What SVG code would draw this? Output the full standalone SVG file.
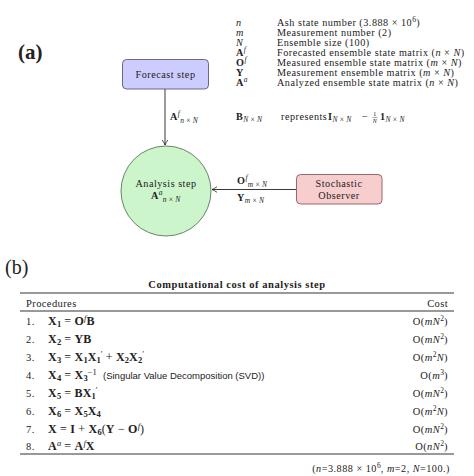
<svg xmlns="http://www.w3.org/2000/svg" width="474" height="476" viewBox="0 0 474 476">
<defs>
<marker id="arr" markerWidth="8" markerHeight="8" refX="6" refY="4" orient="auto" markerUnits="userSpaceOnUse">
<path d="M1,1.2 Q3.5,3 6,4 Q3.5,5 1,6.8" fill="none" stroke="#222" stroke-width="0.8"/>
</marker>
</defs>
<style>
text{font-family:"Liberation Serif","Times New Roman",serif;fill:#222}
.t{font-size:10.2px;letter-spacing:0.5px}
.b{font-weight:bold}
.i{font-style:italic}
.s{font-size:7.5px;letter-spacing:0.2px}
.tb{font-size:10.5px;letter-spacing:0.4px}
.ttl{font-size:10.5px;letter-spacing:0.55px;font-weight:bold}
.f{font-size:12px;letter-spacing:0.2px}
.fs{font-size:8.5px;letter-spacing:0}
.sans{font-family:"Liberation Sans",Arial,sans-serif;font-size:9.5px;letter-spacing:0}
.rule{stroke:#777;stroke-width:1.3}
.conn{stroke:#222;stroke-width:0.9;fill:none}
</style>
<rect width="474" height="476" fill="#fff"/>

<text x="18" y="59" font-size="21" font-weight="bold">(a)</text>

<g id="legend" class="t">
<text x="236" y="26" class="i">n</text><text x="277" y="26">Ash state number (3.888 × 10<tspan class="s" dy="-4">6</tspan><tspan dy="4">)</tspan></text>
<text x="236" y="36" class="i">m</text><text x="277" y="36">Measurement number (2)</text>
<text x="236" y="46" class="i">N</text><text x="277" y="46">Ensemble size (100)</text>
<text x="236" y="56"><tspan class="b">A</tspan><tspan class="s i" dy="-4">f</tspan></text><text x="277" y="56">Forecasted ensemble state matrix (<tspan class="i">n</tspan> × <tspan class="i">N</tspan>)</text>
<text x="236" y="66"><tspan class="b">O</tspan><tspan class="s i" dy="-4">f</tspan></text><text x="277" y="66">Measured ensemble state matrix (<tspan class="i">m</tspan> × <tspan class="i">N</tspan>)</text>
<text x="236" y="76" class="b">Y</text><text x="277" y="76">Measurement ensemble matrix (<tspan class="i">m</tspan> × <tspan class="i">N</tspan>)</text>
<text x="236" y="86"><tspan class="b">A</tspan><tspan class="s i" dy="-4">a</tspan></text><text x="277" y="86">Analyzed ensemble state matrix (<tspan class="i">n</tspan> × <tspan class="i">N</tspan>)</text>
<text x="236" y="120"><tspan class="b">B</tspan><tspan class="s i" dy="2">N</tspan><tspan class="s"> × </tspan><tspan class="s i">N</tspan></text>
<text x="281" y="120">represents</text>
<text x="328" y="120"><tspan class="b">I</tspan><tspan class="s i" dy="2">N</tspan><tspan class="s"> × </tspan><tspan class="s i">N</tspan></text>
<text x="362" y="120">−</text>
<text x="375" y="115.5" font-size="6" text-anchor="middle">1</text>
<line x1="372.5" y1="117.5" x2="377.5" y2="117.5" stroke="#222" stroke-width="0.4"/>
<text x="375" y="123" font-size="6" font-style="italic" text-anchor="middle">N</text>
<text x="380" y="120"><tspan class="b">1</tspan><tspan class="s i" dy="2">N</tspan><tspan class="s"> × </tspan><tspan class="s i">N</tspan></text>
</g>

<g id="connectors">
<line class="conn" x1="165" y1="89" x2="165" y2="145" marker-end="url(#arr)"/>
<line class="conn" x1="296" y1="189.5" x2="212" y2="189.5" marker-end="url(#arr)"/>
<text x="170" y="120" class="t"><tspan class="b">A</tspan><tspan class="s i" dy="-4">f</tspan><tspan class="s i" dy="7">n</tspan><tspan class="s"> × </tspan><tspan class="s i">N</tspan></text>
<text x="237" y="184" class="t"><tspan class="b">O</tspan><tspan class="s i" dy="-4">f</tspan><tspan class="s i" dy="7">m</tspan><tspan class="s"> × </tspan><tspan class="s i">N</tspan></text>
<text x="237" y="201" class="t"><tspan class="b">Y</tspan><tspan class="s i" dy="2">m</tspan><tspan class="s"> × </tspan><tspan class="s i">N</tspan></text>
</g>

<g id="forecast">
<rect x="122.5" y="59.5" width="86" height="29.5" rx="4" fill="#ccccff" stroke="#5a5a78" stroke-width="0.9"/>
<text x="165.5" y="77.5" class="t" text-anchor="middle">Forecast step</text>
</g>

<g id="analysis">
<circle cx="166" cy="191" r="45" fill="#ccf5cc" stroke="#5a785a" stroke-width="0.9"/>
<text x="166" y="187" class="t" text-anchor="middle">Analysis step</text>
<text x="151" y="199" class="t"><tspan class="b">A</tspan><tspan class="s i" dy="-4">a</tspan><tspan class="s i" dy="7">n</tspan><tspan class="s"> × </tspan><tspan class="s i">N</tspan></text>
</g>

<g id="observer">
<rect x="296.5" y="174.5" width="85.5" height="29.5" rx="4" fill="#f7cdcd" stroke="#8a5a5a" stroke-width="0.9"/>
<text x="339" y="186.5" class="t" text-anchor="middle">Stochastic</text>
<text x="339" y="198.5" class="t" text-anchor="middle">Observer</text>
</g>

<text x="5" y="274" font-size="20">(b)</text>

<g id="table">
<text x="237" y="287.5" class="ttl" text-anchor="middle">Computational cost of analysis step</text>
<line class="rule" x1="20" y1="293" x2="454" y2="293"/>
<text x="26" y="306.5" class="tb">Procedures</text>
<text x="448" y="306.5" class="tb" text-anchor="end">Cost</text>
<line class="rule" x1="20" y1="311" x2="454" y2="311" stroke-width="0.9"/>

<g class="tb">
<text x="26" y="325">1.</text>
<text x="26" y="343">2.</text>
<text x="26" y="361">3.</text>
<text x="26" y="379">4.</text>
<text x="26" y="397">5.</text>
<text x="26" y="415">6.</text>
<text x="26" y="433">7.</text>
<text x="26" y="450">8.</text>
</g>

<g class="f">
<text x="48" y="325"><tspan class="b">X</tspan><tspan class="fs b" dy="2">1</tspan><tspan dy="-2"> = </tspan><tspan class="b">O</tspan><tspan class="fs i" dy="-4">f</tspan><tspan class="b" dy="4">B</tspan></text>
<text x="48" y="343"><tspan class="b">X</tspan><tspan class="fs b" dy="2">2</tspan><tspan dy="-2"> = </tspan><tspan class="b">YB</tspan></text>
<text x="48" y="361"><tspan class="b">X</tspan><tspan class="fs b" dy="2">3</tspan><tspan dy="-2"> = </tspan><tspan class="b">X</tspan><tspan class="fs b" dy="2">1</tspan><tspan class="b" dy="-2">X</tspan><tspan class="fs b" dy="2">1</tspan><tspan class="fs" dy="-6">′</tspan><tspan dy="4"> + </tspan><tspan class="b">X</tspan><tspan class="fs b" dy="2">2</tspan><tspan class="b" dy="-2">X</tspan><tspan class="fs b" dy="2">2</tspan><tspan class="fs" dy="-6">′</tspan></text>
<text x="48" y="379"><tspan class="b">X</tspan><tspan class="fs b" dy="2">4</tspan><tspan dy="-2"> = </tspan><tspan class="b">X</tspan><tspan class="fs b" dy="2">3</tspan><tspan class="fs" dy="-6">−1</tspan></text>
<text x="103" y="379" class="sans">(Singular Value Decomposition (SVD))</text>
<text x="48" y="397"><tspan class="b">X</tspan><tspan class="fs b" dy="2">5</tspan><tspan dy="-2"> = </tspan><tspan class="b">BX</tspan><tspan class="fs b" dy="2">1</tspan><tspan class="fs" dy="-6">′</tspan></text>
<text x="48" y="415"><tspan class="b">X</tspan><tspan class="fs b" dy="2">6</tspan><tspan dy="-2"> = </tspan><tspan class="b">X</tspan><tspan class="fs b" dy="2">5</tspan><tspan class="b" dy="-2">X</tspan><tspan class="fs b" dy="2">4</tspan></text>
<text x="48" y="433"><tspan class="b">X</tspan> = <tspan class="b">I</tspan> + <tspan class="b">X</tspan><tspan class="fs b" dy="2">6</tspan><tspan dy="-2">(</tspan><tspan class="b">Y</tspan> − <tspan class="b">O</tspan><tspan class="fs i" dy="-4">f</tspan><tspan dy="4">)</tspan></text>
<text x="48" y="450"><tspan class="b">A</tspan><tspan class="fs i" dy="-4">a</tspan><tspan dy="4"> = </tspan><tspan class="b">A</tspan><tspan class="fs i" dy="-4">f</tspan><tspan class="b" dy="4">X</tspan></text>
</g>

<g class="tb" text-anchor="end">
<text x="448" y="325">O(<tspan class="i">mN</tspan><tspan class="s" dy="-4">2</tspan><tspan dy="4">)</tspan></text>
<text x="448" y="343">O(<tspan class="i">mN</tspan><tspan class="s" dy="-4">2</tspan><tspan dy="4">)</tspan></text>
<text x="448" y="361">O(<tspan class="i">m</tspan><tspan class="s" dy="-4">2</tspan><tspan class="i" dy="4">N</tspan>)</text>
<text x="448" y="379">O(<tspan class="i">m</tspan><tspan class="s" dy="-4">3</tspan><tspan dy="4">)</tspan></text>
<text x="448" y="397">O(<tspan class="i">mN</tspan><tspan class="s" dy="-4">2</tspan><tspan dy="4">)</tspan></text>
<text x="448" y="415">O(<tspan class="i">m</tspan><tspan class="s" dy="-4">2</tspan><tspan class="i" dy="4">N</tspan>)</text>
<text x="448" y="433">O(<tspan class="i">mN</tspan><tspan class="s" dy="-4">2</tspan><tspan dy="4">)</tspan></text>
<text x="448" y="450">O(<tspan class="i">nN</tspan><tspan class="s" dy="-4">2</tspan><tspan dy="4">)</tspan></text>
</g>

<line class="rule" x1="20" y1="454" x2="454" y2="454"/>
<text x="450" y="472" class="t" text-anchor="end">(<tspan class="i">n</tspan>=3.888 × 10<tspan class="s" dy="-4">6</tspan><tspan dy="4">, </tspan><tspan class="i">m</tspan>=2, <tspan class="i">N</tspan>=100.)</text>
</g>
</svg>
